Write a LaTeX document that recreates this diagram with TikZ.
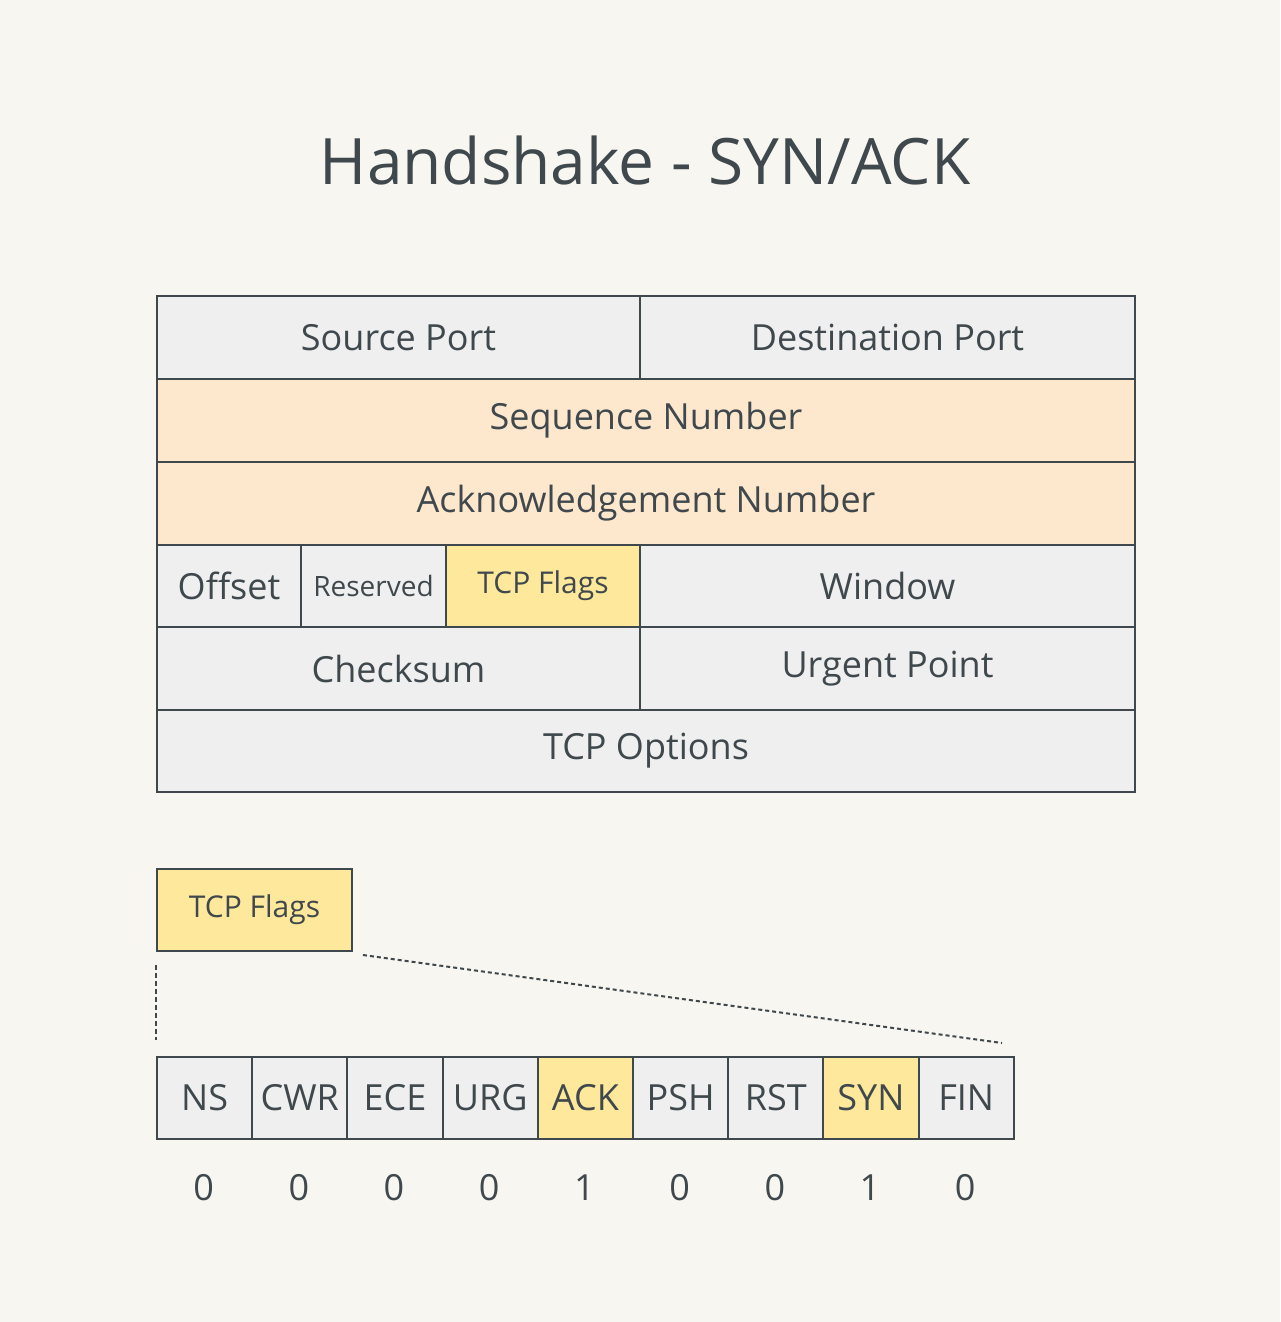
\documentclass[tikz,border=0pt]{standalone}
\usepackage{fontspec}
\setmainfont{Open Sans}
\definecolor{bg}{HTML}{F8F6F1}
\definecolor{stroke}{HTML}{3F484C}
\definecolor{grayf}{HTML}{EFEFEF}
\definecolor{peach}{HTML}{FDE7CD}
\definecolor{yell}{HTML}{FDE89B}
\newcommand{\lblfont}{\fontsize{36}{40}\selectfont}
\begin{document}
\begin{tikzpicture}[x=1pt,y=-1pt,
  cell/.style={draw=stroke, line width=2pt, fill=grayf, inner sep=0pt, anchor=north west, font=\lblfont, text=stroke},
  pch/.style={cell, fill=peach},
  yl/.style={cell, fill=yell},
  val/.style={font=\fontsize{36}{40}\selectfont, text=stroke, inner sep=0pt},
  guide/.style={draw=stroke, line width=2pt, dash pattern=on 5pt off 3pt}]
\fill[bg] (0,0) rectangle (1280,1322);
\useasboundingbox (0,0) rectangle (1280,1322);
\node[font=\fontsize{64}{72}\selectfont, text=stroke] (title) at (645,160) {Handshake - SYN/ACK};
% header table
\node[cell, minimum width=483pt, minimum height=83pt] (src) at (156,295) {Source Port};
\node[cell, minimum width=495pt, minimum height=83pt] (dst) at (639,295) {Destination Port};
\node[pch, minimum width=978pt, minimum height=83pt] (seq) at (156,378) {Sequence Number};
\node[pch, minimum width=978pt, minimum height=83pt] (ack) at (156,461) {Acknowledgement Number};
\node[cell, minimum width=144pt, minimum height=82pt] (off) at (156,544) {Offset};
\node[cell, minimum width=145pt, minimum height=82pt, font=\fontsize{28}{32}\selectfont] (res) at (300,544) {Reserved};
\node[yl, minimum width=194pt, minimum height=82pt, font=\fontsize{30}{34}\selectfont] (flg) at (445,544) {TCP Flags};
\node[cell, minimum width=495pt, minimum height=82pt] (win) at (639,544) {Window};
\node[cell, minimum width=483pt, minimum height=83pt] (chk) at (156,626) {Checksum};
\node[cell, minimum width=495pt, minimum height=83pt] (urg) at (639,626) {Urgent Point};
\node[cell, minimum width=978pt, minimum height=82pt] (opt) at (156,709) {TCP Options};
% zoom box
\node[yl, minimum width=195pt, minimum height=82pt, font=\fontsize{30}{34}\selectfont] (zbox) at (156,868) {TCP Flags};
\coordinate (d1s) at (156,965);
\coordinate (d1e) at (156,1040);
\coordinate (d2s) at (363,955);
\coordinate (d2e) at (1002,1043);
\draw[guide] (d1s) -- (d1e);
\draw[guide, dash pattern=on 4pt off 3pt] (d2s) -- (d2e);
% flag cells
\foreach \n/\t/\s/\v [count=\i from 0] in {fns/NS/cell/0, fcwr/CWR/cell/0, fece/ECE/cell/0, furg/URG/cell/0, fack/ACK/yl/1, fpsh/PSH/cell/0, frst/RST/cell/0, fsyn/SYN/yl/1, ffin/FIN/cell/0}{
  \node[\s, minimum width=95.2pt, minimum height=82pt] (\n) at ({156+95.2*\i},1056) {\t};
  \node[val] (v\n) at ({156+95.2*\i+47.6},1188) {\v};
}
\end{tikzpicture}
\end{document}
